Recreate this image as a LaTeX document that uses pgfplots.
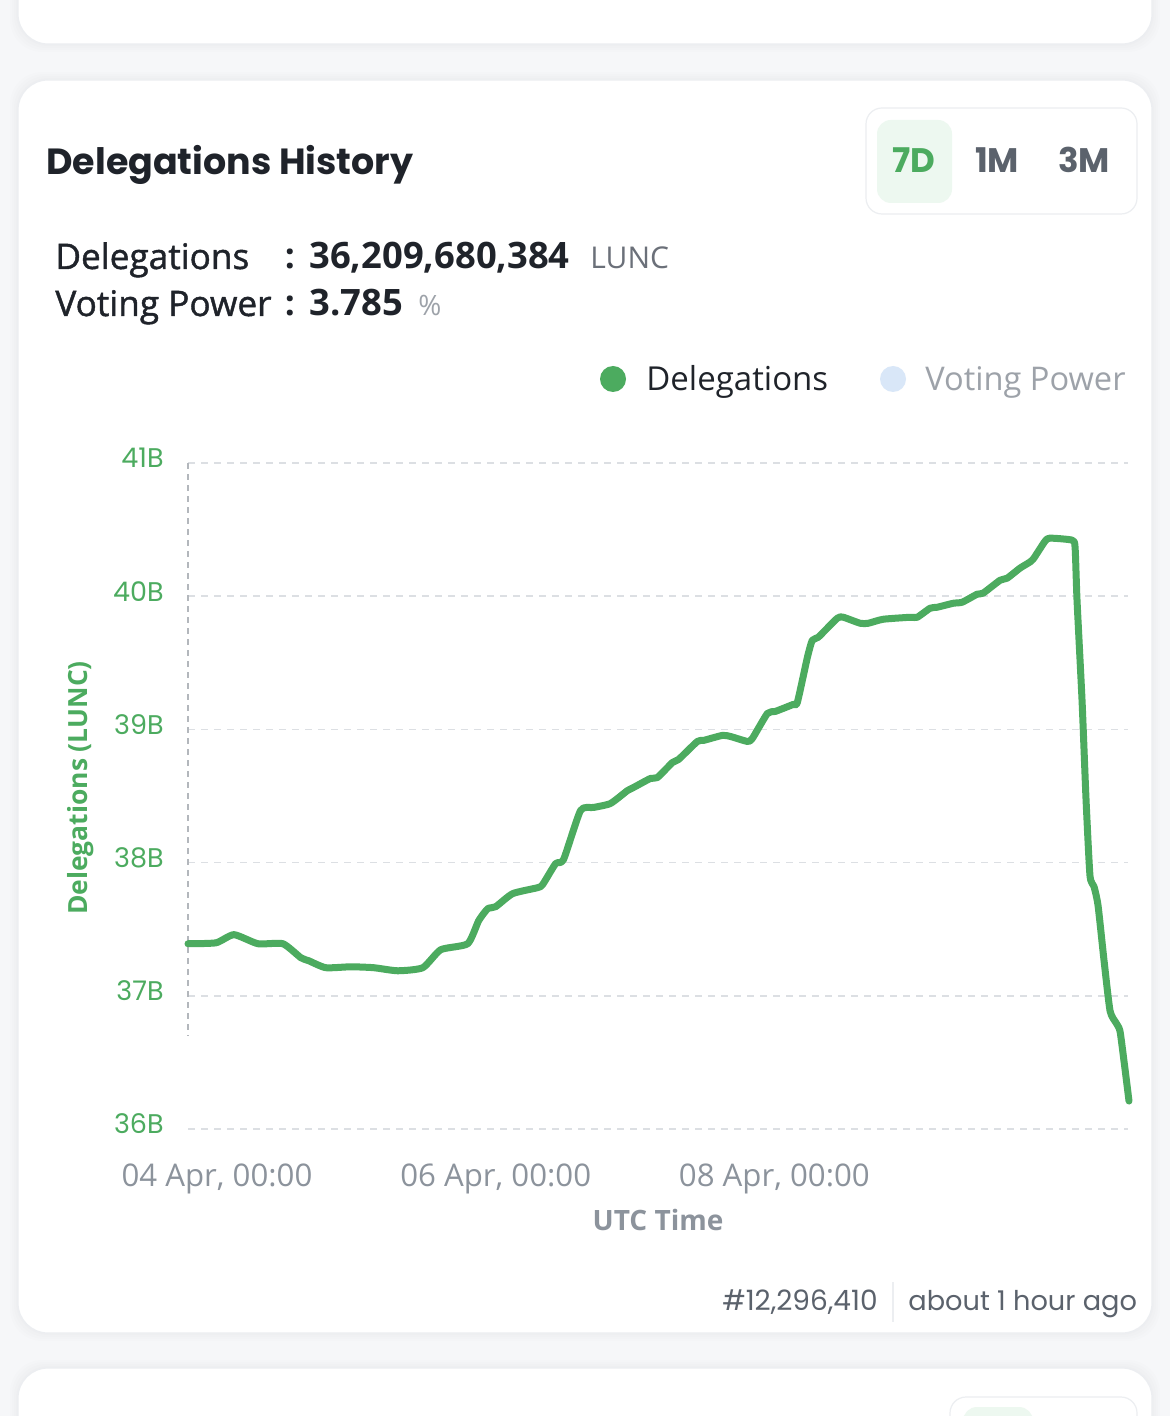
\documentclass[border=0pt]{standalone}
\usepackage{pgfplots}
\pgfplotsset{compat=1.18}
\usepackage{pgfplotstable}
\usepackage{fontspec}
\setmainfont{Open Sans}
\newfontfamily\pop{Poppins}
\newfontfamily\osans{Open Sans}
\newfontfamily\osmed{Open Sans}[FakeBold=1.2]
\newcommand\fs[1]{\fontsize{#1}{#1}\selectfont}
\definecolor{pagebg}{HTML}{F6F7F9}
\definecolor{cardborder}{HTML}{ECEEF1}
\definecolor{lgreen}{HTML}{4CAB5F}
\definecolor{dark}{HTML}{1F232A}
\definecolor{btngray}{HTML}{5B626C}
\definecolor{btnbg}{HTML}{EDF8F0}
\definecolor{midgray}{HTML}{6B7079}
\definecolor{lightgray}{HTML}{9DA2A9}
\definecolor{vpblue}{HTML}{D9E7F8}
\definecolor{tickgray}{HTML}{8C939C}
\definecolor{gridc}{HTML}{DCDFE3}
\definecolor{vline}{HTML}{B3B7BC}
\pgfplotstableread{
x y
-0.208 37.391
-0.007 37.398
0.122 37.459
0.294 37.391
0.473 37.391
0.602 37.286
0.659 37.263
0.781 37.211
0.961 37.218
1.125 37.211
1.297 37.188
1.477 37.211
1.606 37.346
1.799 37.391
1.878 37.564
1.943 37.654
2.000 37.669
2.122 37.767
2.301 37.812
2.337 37.835
2.430 37.992
2.487 38.023
2.609 38.391
2.703 38.414
2.824 38.444
2.946 38.541
2.989 38.564
3.111 38.632
3.161 38.639
3.269 38.752
3.312 38.774
3.448 38.910
3.491 38.917
3.627 38.955
3.685 38.947
3.806 38.910
3.842 38.932
3.950 39.120
4.007 39.135
4.136 39.188
4.165 39.203
4.237 39.541
4.272 39.669
4.315 39.692
4.452 39.835
4.495 39.842
4.616 39.797
4.674 39.797
4.781 39.827
4.975 39.842
5.025 39.842
5.118 39.910
5.168 39.917
5.283 39.947
5.348 39.955
5.455 40.015
5.498 40.023
5.620 40.120
5.670 40.135
5.763 40.211
5.821 40.248
5.857 40.278
5.943 40.414
5.978 40.436
6.136 40.421
6.158 40.368
6.172 39.970
6.208 39.218
6.237 38.466
6.265 37.902
6.294 37.820
6.323 37.677
6.366 37.263
6.409 36.887
6.452 36.797
6.480 36.737
6.509 36.511
6.545 36.210
}\deldata
\begin{document}
\begin{tikzpicture}
\begin{scope}[x=0.5pt,y=-0.5pt]
\useasboundingbox (0,0) rectangle (1170,1416);
\begin{scope}
\clip (0,0) rectangle (1170,1416);
\fill[pagebg] (0,0) rectangle (1170,1416);
% soft shadows
\foreach \e in {2,4,6,8}{
  \fill[black,opacity=0.008,rounded corners=16pt] (18-\e,-60) rectangle (1152+\e,44+\e);
  \fill[black,opacity=0.008,rounded corners=16pt] (18-\e,80-\e) rectangle (1152+\e,1333+\e);
  \fill[black,opacity=0.008,rounded corners=16pt] (18-\e,1368-\e) rectangle (1152+\e,1500);
}
% top card
\draw[cardborder,line width=0.6pt,fill=white,rounded corners=15pt] (18,-60) rectangle (1152,44);
% main card
\draw[cardborder,line width=0.6pt,fill=white,rounded corners=15pt] (18,80) rectangle (1152,1333);
% bottom card
\draw[cardborder,line width=0.6pt,fill=white,rounded corners=15pt] (18,1368) rectangle (1152,1500);
\draw[cardborder,line width=0.6pt,fill=white,rounded corners=8pt] (950,1397) rectangle (1137,1500);
\fill[btnbg,rounded corners=7pt] (963,1407) rectangle (1033,1500);
\end{scope}
% title
\node[anchor=base west,inner sep=0pt,font=\pop\bfseries\fs{18.2},text=dark] at (46,175) {Delegations History};
% buttons
\draw[cardborder,line width=0.6pt,fill=white,rounded corners=8pt] (866,108) rectangle (1137,214);
\fill[btnbg,rounded corners=7pt] (877,120) rectangle (952,203);
\node[inner sep=0pt,font=\pop\bfseries\fs{17},text=lgreen] at (914,160) {7D};
\node[inner sep=0pt,font=\pop\bfseries\fs{17},text=btngray] at (997,160) {1M};
\node[inner sep=0pt,font=\pop\bfseries\fs{17},text=btngray] at (1084,160) {3M};
% info lines
\node[anchor=base west,inner sep=0pt,font=\osmed\fs{17.6},text=dark] at (55,269) {Delegations};
\node[anchor=base,inner sep=0pt,font=\osans\bfseries\fs{17.6},text=dark] at (290,269) {:};
\node[anchor=base west,inner sep=0pt,font=\osans\bfseries\fs{18.2},text=dark] at (309,269) {36,209,680,384};
\node[anchor=base west,inner sep=0pt,font=\osans\fs{15},text=midgray] at (590,269) {LUNC};
\node[anchor=base west,inner sep=0pt,font=\osmed\fs{17.6},text=dark] at (55,316) {Voting Power};
\node[anchor=base,inner sep=0pt,font=\osans\bfseries\fs{17.6},text=dark] at (290,316) {:};
\node[anchor=base west,inner sep=0pt,font=\osans\bfseries\fs{18.2},text=dark] at (309,316) {3.785};
\node[anchor=base west,inner sep=0pt,font=\osans\fs{14},text=lightgray] at (418,316) {\%};
% legend
\fill[lgreen] (613,379) circle (13);
\node[anchor=base west,inner sep=0pt,font=\osans\fs{16.5},text=dark] at (646,391) {Delegations};
\fill[vpblue] (893,379) circle (13);
\node[anchor=base west,inner sep=0pt,font=\osans\fs{16.3},text=lightgray] at (925,391) {Voting Power};
% axis titles
\node[rotate=90,inner sep=0pt,font=\osans\bfseries\fs{13.2},text=lgreen] at (81,788) {Delegations (LUNC)};
\node[anchor=base,inner sep=0pt,font=\osans\bfseries\fs{14},text=tickgray] at (658,1230) {UTC Time};
% footer
\node[anchor=base east,inner sep=0pt,font=\pop\fs{14},text=btngray] at (878,1310) {\#12,296,410};
\draw[cardborder,line width=0.8pt] (893,1282) -- (893,1322);
\node[anchor=base west,inner sep=0pt,font=\pop\fs{13.6},text=btngray] at (908,1310) {about 1 hour ago};
\end{scope}
\begin{axis}[
  at={(94pt,-564.5pt)}, anchor=south west,
  width=470pt, height=333pt, scale only axis,
  xmin=-0.208, xmax=6.538, ymin=36, ymax=41,
  clip=false,
  axis line style={draw=none},
  major tick length=0pt,
  tick style={draw=none},
  ymajorgrids,
  grid style={gridc, line width=0.75pt, dash pattern=on 3.5pt off 3pt},
  ytick={36,37,38,39,40,41},
  yticklabels={36B,37B,38B,39B,40B,41B},
  xtick={0,2,4},
  xticklabels={{04 Apr, 00:00},{06 Apr, 00:00},{08 Apr, 00:00}},
  yticklabel style={anchor=east, inner sep=0pt, xshift=-12pt, yshift=2.5pt, font=\pop\fs{13.5}, text=lgreen},
  xticklabel style={anchor=base, inner sep=0pt, yshift=-28.5pt, font=\osans\fs{15.6}, text=tickgray},
]
\draw[vline, line width=0.75pt, dash pattern=on 3pt off 2.5pt] (axis cs:-0.208,41) -- (axis cs:-0.208,36.70);
\addplot[color=lgreen, line width=3.5pt, smooth, tension=0.35, line join=round, line cap=round] table {\deldata};
\end{axis}
\end{tikzpicture}
\end{document}
